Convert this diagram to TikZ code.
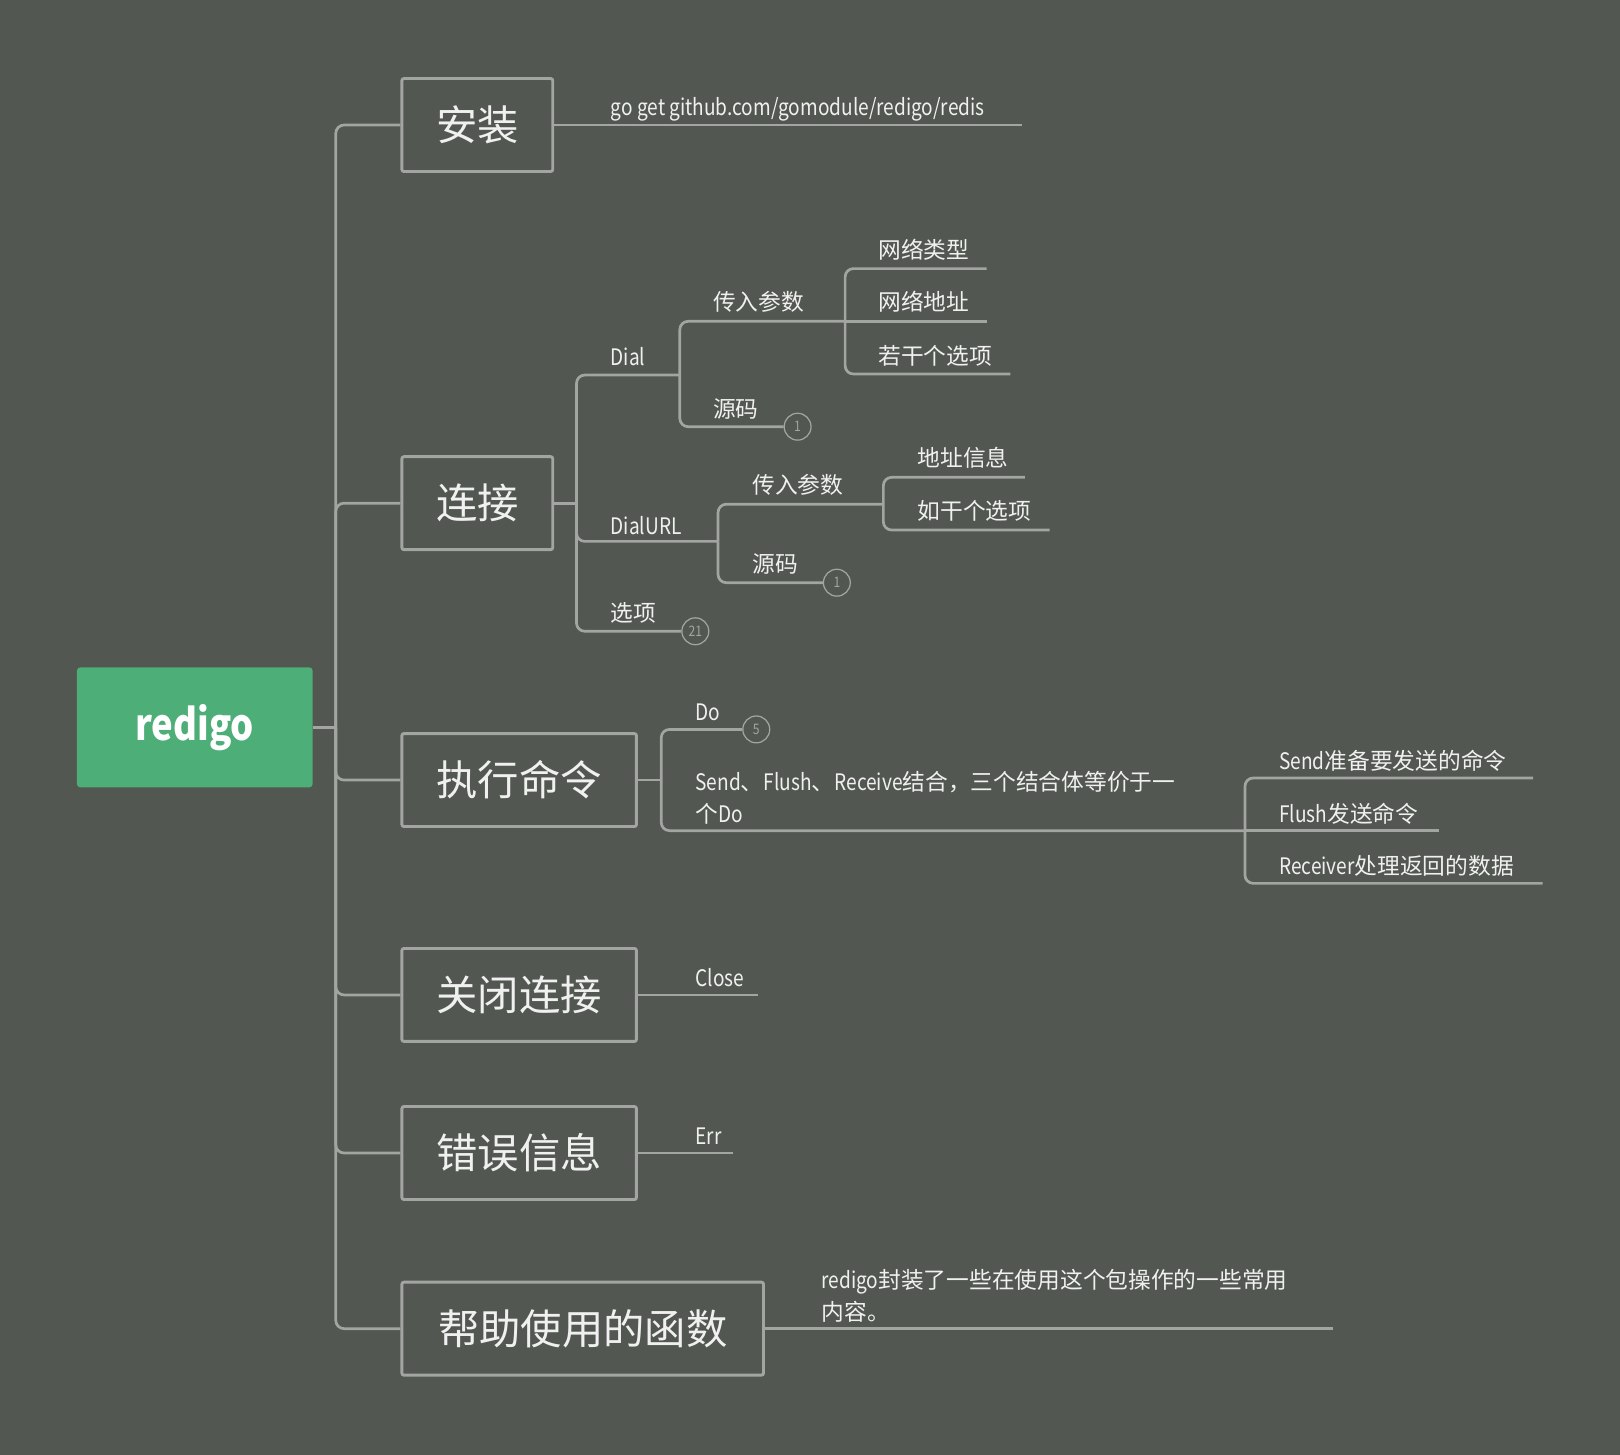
\documentclass[tikz,border=0pt]{standalone}
\usepackage{fontspec}
\setmainfont{Noto Sans CJK SC}
\newfontfamily\latf[FakeStretch=0.84]{Noto Sans CJK SC}
\definecolor{bg}{HTML}{525751}
\definecolor{ln}{HTML}{A3A5A2}
\definecolor{tx}{HTML}{F0F0F0}
\definecolor{gr}{HTML}{4DAE78}
\tikzset{
  conn/.style={draw=ln,line width=2.6pt,rounded corners=8pt},
  mainbox/.style={draw=ln,line width=2.8pt,rounded corners=2pt,minimum height=90pt,inner sep=0pt,text=tx,font=\fontsize{40}{44}\selectfont},
  lbl/.style={anchor=base west,inner sep=0pt,text=tx,font=\fontsize{22}{30}\selectfont},
  num/.style={circle,draw=ln,line width=1.2pt,minimum size=26pt,inner sep=0pt,text=ln,font=\latf\fontsize{14}{14}\selectfont}
}
\begin{document}
\begin{tikzpicture}[x=1pt,y=-1pt]
\useasboundingbox[fill=bg] (0,0) rectangle (1568,1408);
% root
\node[fill=gr,rounded corners=3pt,minimum width=228pt,minimum height=116pt,text=white,font=\latf\bfseries\fontsize{42}{46}\selectfont] (root) at (188.5,704) {redigo};
% main boxes
\node[mainbox,minimum width=146pt] (az) at (462,121) {安装};
\node[mainbox,minimum width=146pt] (lj) at (462,487) {连接};
\node[mainbox,minimum width=227pt] (zx) at (502.5,755) {执行命令};
\node[mainbox,minimum width=227pt] (gb) at (502.5,963) {关闭连接};
\node[mainbox,minimum width=227pt] (cw) at (502.5,1116) {错误信息};
\node[mainbox,minimum width=350pt] (bz) at (564,1286) {帮助使用的函数};
% trunk
\coordinate (t) at (325,704);
\draw[conn] (root.east) -- (t);
\foreach \b in {az,lj,zx,gb,cw,bz}{\draw[conn] (t) |- (\b.west);}
% 安装
\node[lbl] (l1) at (591,112) {\latf go get github.com/gomodule/redigo/redis};
\draw[conn] (az.east) -- (989,121);
% 连接
\coordinate (c1) at (558,487);
\draw[conn] (lj.east) -- (c1);
\coordinate (dial) at (658,363);
\coordinate (durl) at (695,524);
\draw[conn] (c1) |- (dial);
\draw[conn] (c1) |- (durl);
\node[num] (n21) at (673,611) {21};
\draw[conn] (c1) |- (n21.west);
\node[lbl] at (591,354) {\latf Dial};
\node[lbl] at (591,517) {\latf DialURL};
\node[lbl] at (591,602) {选项};
% Dial children
\coordinate (p1) at (818,311);
\draw[conn] (dial) |- (p1);
\node[lbl] at (690,301) {传入参数};
\node[num] (n1a) at (772,413) {1};
\draw[conn] (dial) |- (n1a.west);
\node[lbl] at (690,404) {源码};
\draw[conn] (p1) |- (955,260);
\draw[conn] (p1) -- (955,311);
\draw[conn] (p1) |- (978,362);
\node[lbl] at (850,250) {网络类型};
\node[lbl] at (850,301) {网络地址};
\node[lbl] at (850,353) {若干个选项};
% DialURL children
\coordinate (p2) at (855,488);
\draw[conn] (durl) |- (p2);
\node[lbl] at (728,478) {传入参数};
\node[num] (n1b) at (810,564) {1};
\draw[conn] (durl) |- (n1b.west);
\node[lbl] at (728,554) {源码};
\draw[conn] (p2) |- (992,462);
\draw[conn] (p2) |- (1016,513);
\node[lbl] at (888,452) {地址信息};
\node[lbl] at (888,503) {如干个选项};
% 执行命令
\coordinate (c3) at (640,755);
\draw[conn] (zx.east) -- (c3);
\node[num] (n5) at (732,706) {5};
\draw[conn] (c3) |- (n5.west);
\node[lbl] at (673,697) {\latf Do};
\coordinate (sf) at (1205,804);
\draw[conn] (c3) |- (sf);
\node[lbl] at (673,765) {\latf Send\rmfamily 、\latf Flush\rmfamily 、\latf Receive\rmfamily 结合，三个结合体等价于一};
\node[lbl] at (673,796) {个\latf Do};
\draw[conn] (sf) |- (1484,753);
\draw[conn] (sf) -- (1393,804);
\draw[conn] (sf) |- (1493,855);
\node[lbl] at (1238,745) {\latf Send\rmfamily 准备要发送的命令};
\node[lbl] at (1238,796) {\latf Flush\rmfamily 发送命令};
\node[lbl] at (1238,846) {\latf Receiver\rmfamily 处理返回的数据};
% 关闭 / 错误
\draw[conn] (gb.east) -- (734,963);
\node[lbl] at (673,955) {\latf Close};
\draw[conn] (cw.east) -- (709,1116);
\node[lbl] at (673,1108) {\latf Err};
% 帮助
\draw[conn] (bz.east) -- (1290,1286);
\node[lbl] at (795,1247) {\latf redigo\rmfamily 封装了一些在使用这个包操作的一些常用};
\node[lbl] at (795,1278) {内容。};
\end{tikzpicture}
\end{document}
